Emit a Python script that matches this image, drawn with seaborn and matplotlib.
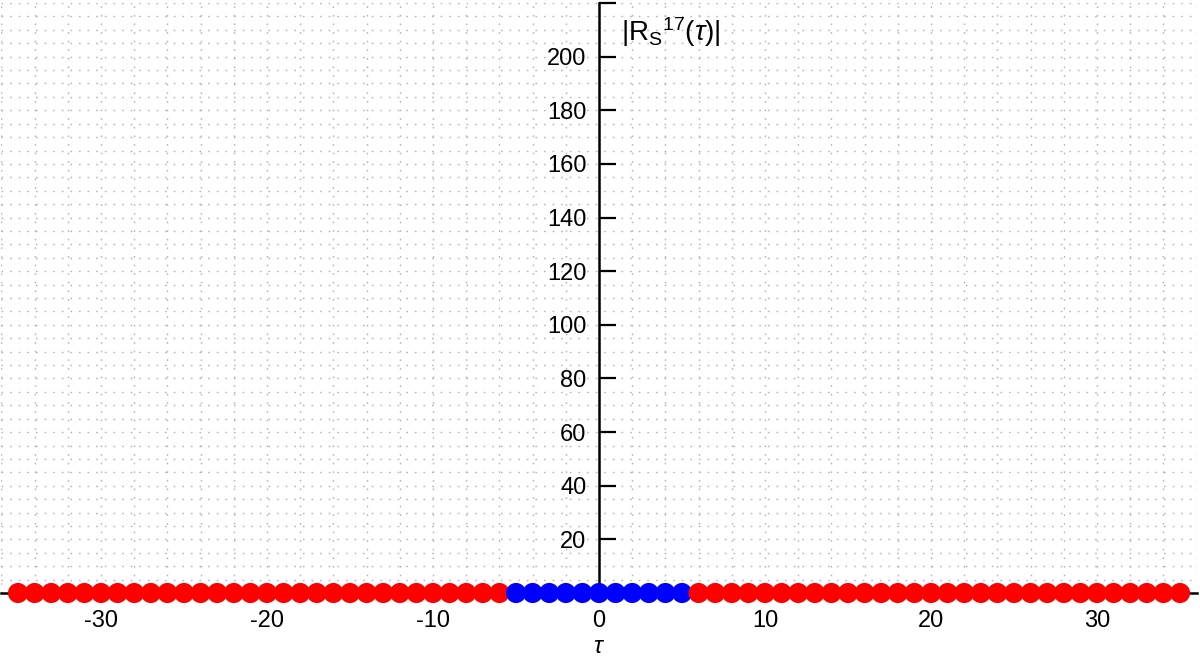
import matplotlib
matplotlib.use("Agg")
import matplotlib.pyplot as plt
from matplotlib.ticker import MultipleLocator, FixedLocator
import seaborn as sns
import pandas as pd

# ---- data ----
tau = [-35, -34, -33, -32, -31, -30, -29, -28, -27, -26, -25, -24, -23, -22, -21,
       -20, -19, -18, -17, -16, -15, -14, -13, -12, -11, -10, -9, -8, -7, -6,
       -5, -4, -3, -2, -1, 0, 1, 2, 3, 4, 5,
       6, 7, 8, 9, 10, 11, 12, 13, 14, 15, 16, 17, 18, 19, 20, 21, 22, 23, 24,
       25, 26, 27, 28, 29, 30, 31, 32, 33, 34, 35]
R_abs = [0, 0, 0, 0, 0, 0, 0, 0, 0, 0, 0, 0, 0, 0, 0,
         0, 0, 0, 0, 0, 0, 0, 0, 0, 0, 0, 0, 0, 0, 0,
         0, 0, 0, 0, 0, 0, 0, 0, 0, 0, 0,
         0, 0, 0, 0, 0, 0, 0, 0, 0, 0, 0, 0, 0, 0, 0, 0, 0, 0, 0,
         0, 0, 0, 0, 0, 0, 0, 0, 0, 0, 0]
x_ticks = [-30, -20, -10, 0, 10, 20, 30]
y_ticks = [20, 40, 60, 80, 100, 120, 140, 160, 180, 200]
y_label = r"$|{\mathrm{R}_{\mathrm{S}}}^{17}(\tau)|$"
x_label = r"$\tau$"

df = pd.DataFrame({"tau": tau, "R": R_abs})
df["zone"] = ["in" if abs(t) <= 5 else "out" for t in tau]

sns.set_theme(style="white")
plt.rcParams["font.family"] = ["Liberation Sans", "DejaVu Sans"]
plt.rcParams["mathtext.fontset"] = "custom"
plt.rcParams["mathtext.rm"] = "Liberation Sans"
plt.rcParams["mathtext.it"] = "Liberation Sans:italic"
plt.rcParams["mathtext.bf"] = "Liberation Sans:bold"
plt.rcParams["text.color"] = "black"
plt.rcParams["xtick.labelcolor"] = "black"
plt.rcParams["ytick.labelcolor"] = "black"

fig = plt.figure(figsize=(12, 6.61), dpi=100)
ax = fig.add_axes([0.0012, 68 / 661, 0.9960, 590 / 661])

sns.scatterplot(data=df, x="tau", y="R", hue="zone",
                palette={"in": "#0000ff", "out": "#ff0000"},
                s=210, linewidth=0, ax=ax, legend=False, zorder=5, clip_on=False)

ax.set_xlim(-36, 36)
ax.set_ylim(0, 220)

for s in ["top", "right"]:
    ax.spines[s].set_visible(False)
ax.spines["left"].set_position(("data", 0))
ax.spines["bottom"].set_position(("data", 0))
for s in ["left", "bottom"]:
    ax.spines[s].set_color("black")
    ax.spines[s].set_linewidth(1.8)
    ax.spines[s].set_zorder(3)

ax.xaxis.set_major_locator(FixedLocator(x_ticks))
ax.yaxis.set_major_locator(FixedLocator(y_ticks + [220]))
ax.set_xticklabels([str(v) for v in x_ticks])
ax.set_yticklabels([str(v) for v in y_ticks] + [""])
ax.xaxis.set_minor_locator(MultipleLocator(2))
ax.yaxis.set_minor_locator(MultipleLocator(5))

ax.tick_params(axis="x", which="major", direction="in", length=6, width=1.6,
               color="black", labelcolor="black", labelsize=17, pad=12, bottom=True)
ax.tick_params(axis="y", which="major", direction="in", length=12, width=1.6,
               color="black", labelcolor="black", labelsize=17, pad=9, left=True)
ax.tick_params(which="minor", length=0)

ax.grid(True, which="both", linestyle=(0, (1.2, 5)), color="#b5b5b5", linewidth=1.0)
ax.set_axisbelow(True)

ax.set_xlabel("")
ax.set_ylabel("")

ax.text(1.35, 215.5, y_label, fontsize=20, ha="left", va="top", color="black")
fig.text(599 / 1200, 1 - 647 / 661, x_label, fontsize=17, ha="center", va="center",
         color="black")

fig.savefig("out.png", dpi=100)
